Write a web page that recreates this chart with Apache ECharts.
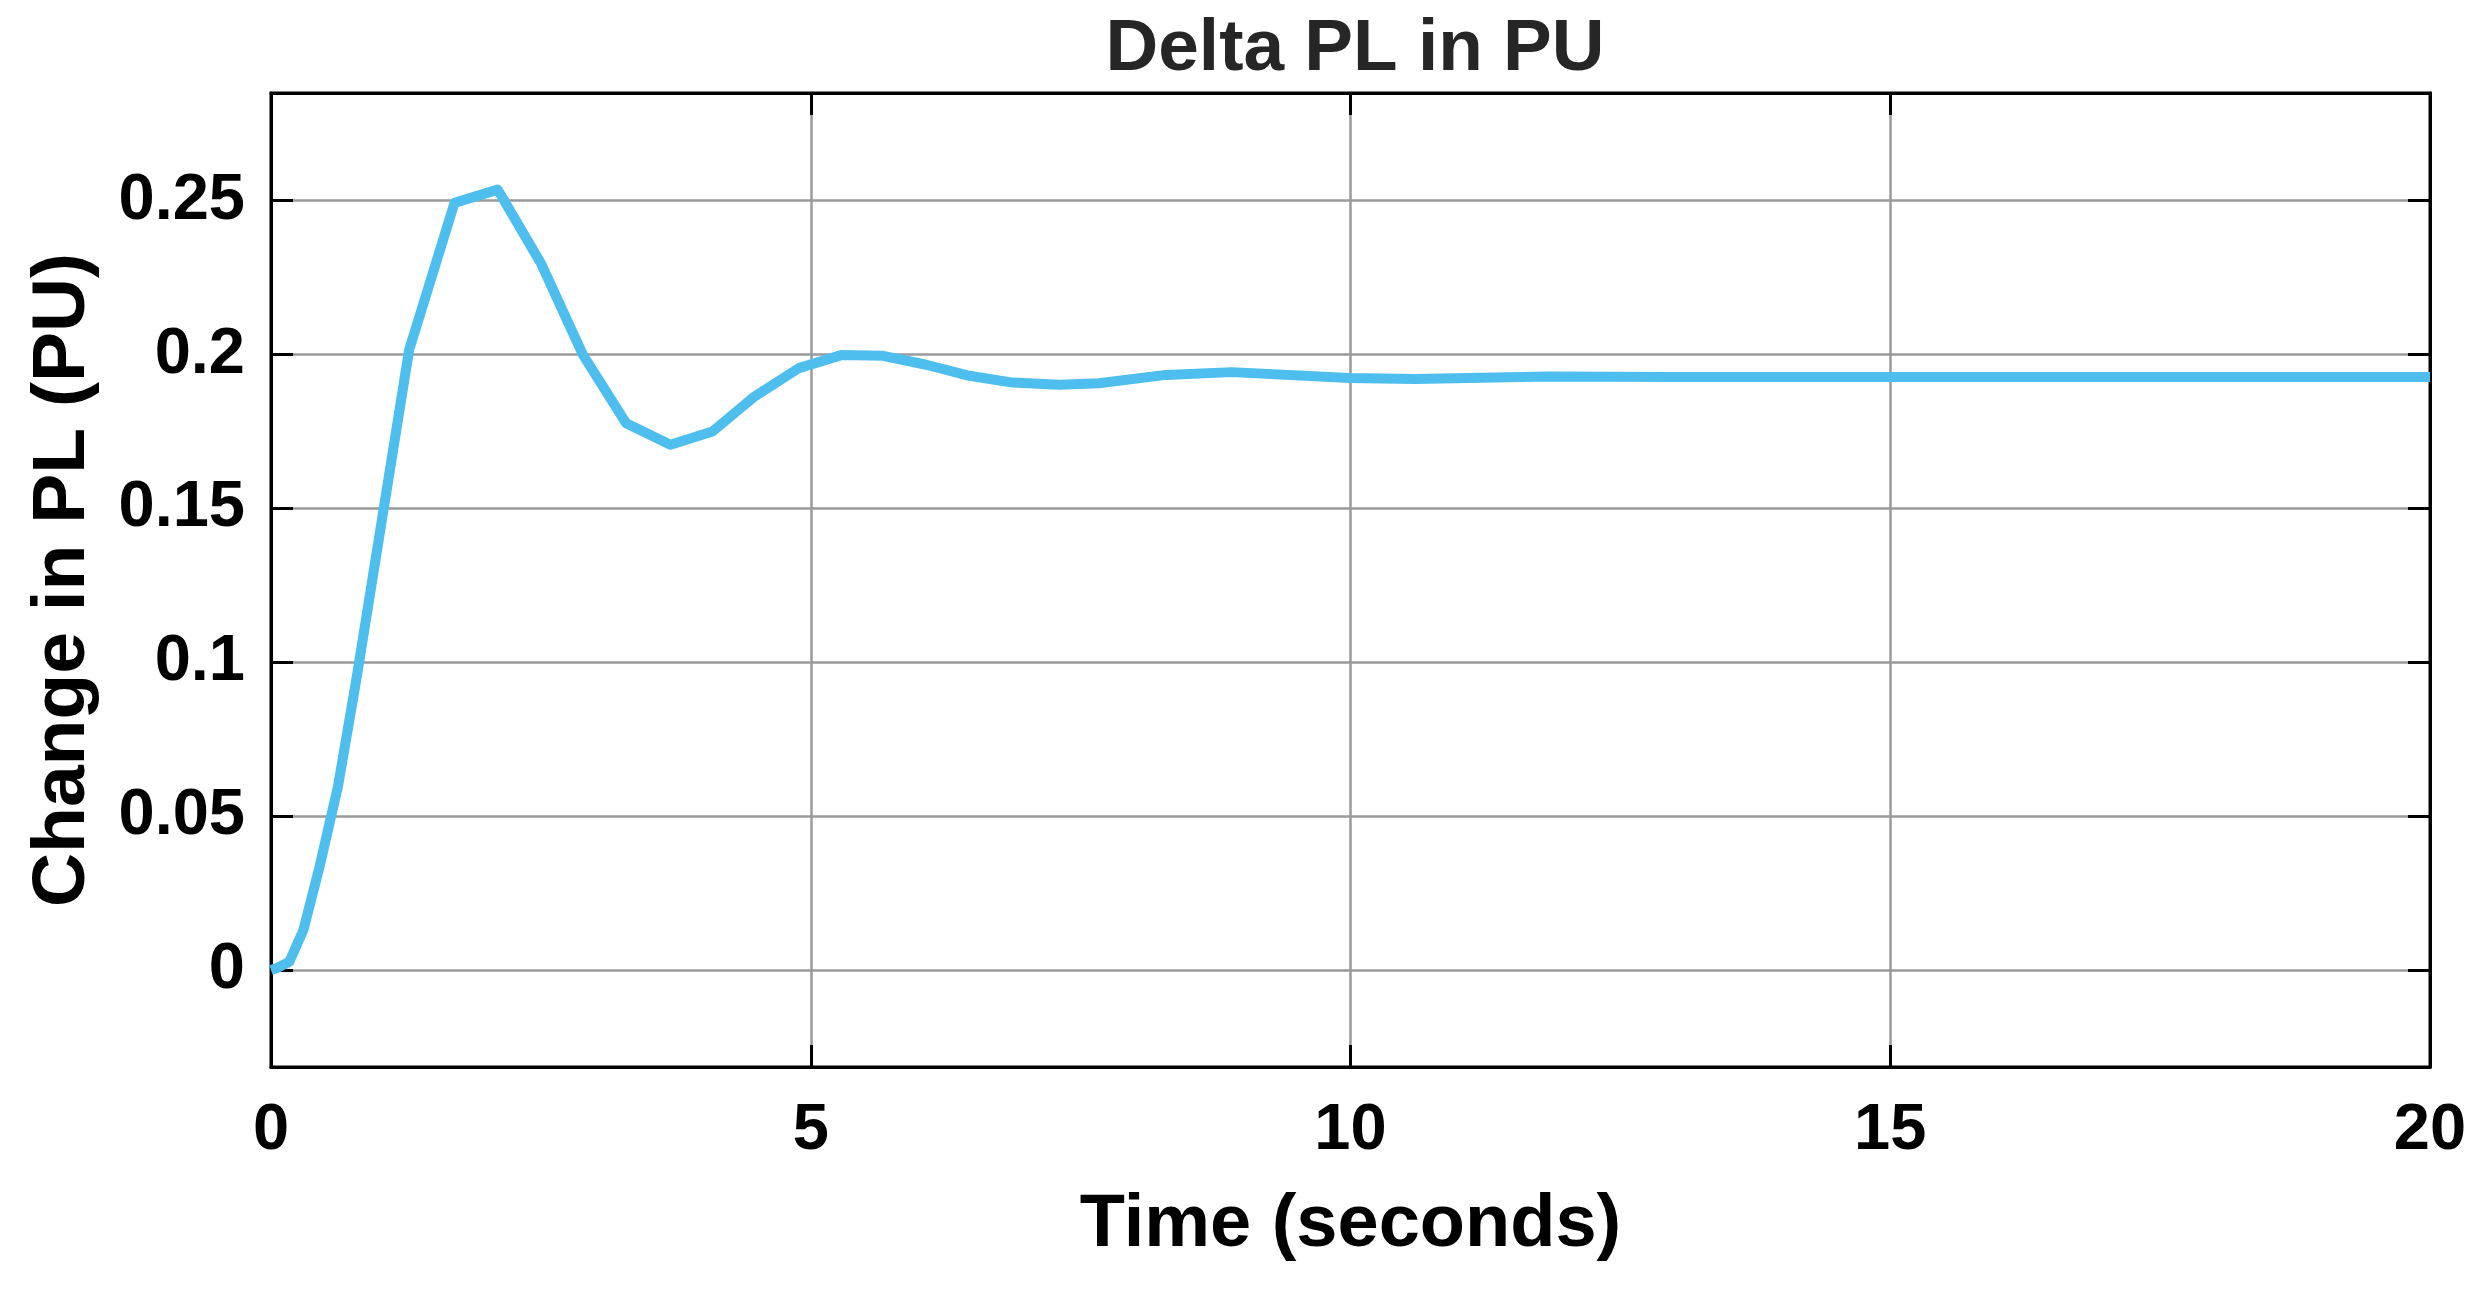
<!DOCTYPE html>
<html>
<head>
<meta charset="utf-8">
<script src="https://cdn.jsdelivr.net/npm/echarts@6/dist/echarts.min.js"></script>
<style>
html,body{margin:0;padding:0;background:#fff;}
#chart{width:2479px;height:1291px;}
</style>
</head>
<body>
<div id="chart"></div>
<script>
// Data
var timeValues = [0, 0.05, 0.17, 0.30, 0.45, 0.62, 0.79, 1.28, 1.70, 2.10, 2.50, 2.89, 3.29, 3.70, 4.09, 4.48, 4.89, 5.29, 5.67, 6.07, 6.47, 6.87, 7.30, 7.67, 8.29, 8.90, 9.99, 10.6, 11.84, 13.0, 15.0, 17.5, 20.0];
var deltaPL    = [0, 0.0006, 0.0027, 0.013, 0.0336, 0.0596, 0.0943, 0.2016, 0.2493, 0.2536, 0.2297, 0.1999, 0.1777, 0.1707, 0.1750, 0.1864, 0.1956, 0.1999, 0.1996, 0.1967, 0.1931, 0.1909, 0.1902, 0.1907, 0.1934, 0.1943, 0.1924, 0.1921, 0.1929, 0.1927, 0.1927, 0.1927, 0.1927];
var yTicks = [0, 0.05, 0.1, 0.15, 0.2, 0.25];
var xTicks = [0, 5, 10, 15, 20];

var FONT = '"Liberation Sans", Arial, Helvetica, sans-serif';
var points = timeValues.map(function (t, i) { return [t, deltaPL[i]]; });

var chart = echarts.init(document.getElementById('chart'), null, {renderer: 'canvas'});
var tickStyle = {inside: true, length: 22, lineStyle: {color: '#000', width: 3}};
var gridLine = {show: true, lineStyle: {color: '#9a9a9a', width: 2.5}};
var boxLine = {show: true, onZero: false, lineStyle: {color: '#000', width: 3}};

chart.setOption({
  backgroundColor: '#fff',
  animation: false,
  title: {
    text: 'Delta PL in PU',
    left: 1350,
    textAlign: 'center',
    top: 8,
    textStyle: {fontFamily: FONT, fontSize: 73, fontWeight: 'bold', color: '#262626'}
  },
  grid: {left: 271, right: 49, top: 93, bottom: 224, show: true, borderColor: '#000', borderWidth: 3, containLabel: false},
  xAxis: [{
    type: 'value', min: 0, max: 20, interval: 5,
    name: 'Time (seconds)', nameLocation: 'middle', nameGap: 122,
    nameTextStyle: {fontFamily: FONT, fontSize: 74, fontWeight: 'bold', color: '#000'},
    axisLine: boxLine,
    axisTick: {inside: true, length: 22, lineStyle: {color: '#000', width: 3}, customValues: xTicks},
    axisLabel: {fontFamily: FONT, fontSize: 65, fontWeight: 'bold', color: '#000', margin: 32,
      customValues: xTicks},
    splitLine: gridLine
  }, {
    type: 'value', min: 0, max: 20, interval: 5, position: 'top',
    axisLine: boxLine,
    axisTick: {inside: true, length: 22, lineStyle: {color: '#000', width: 3}, customValues: xTicks},
    axisLabel: {show: false}, splitLine: {show: false}
  }],
  yAxis: [{
    type: 'value', min: -0.0315, max: 0.285,
    name: 'Change in PL (PU)', nameLocation: 'middle', nameGap: 170,
    nameTextStyle: {fontFamily: FONT, fontSize: 75, fontWeight: 'bold', color: '#000'},
    axisLine: boxLine,
    axisTick: {inside: true, length: 22, lineStyle: {color: '#000', width: 3}, customValues: yTicks},
    axisLabel: {fontFamily: FONT, fontSize: 65, fontWeight: 'bold', color: '#000', margin: 26, customValues: yTicks},
    splitLine: gridLine
  }, {
    type: 'value', min: -0.0315, max: 0.285, position: 'right',
    axisLine: boxLine,
    axisTick: {inside: true, length: 22, lineStyle: {color: '#000', width: 3}, customValues: yTicks},
    axisLabel: {show: false}, splitLine: {show: false}
  }],
  series: [{
    type: 'line',
    data: points,
    xAxisIndex: 0, yAxisIndex: 0,
    showSymbol: false,
    smooth: false,
    clip: true,
    lineStyle: {color: '#4DBEEE', width: 10, join: 'round', cap: 'butt'},
    z: 3
  }]
});
</script>
</body>
</html>
